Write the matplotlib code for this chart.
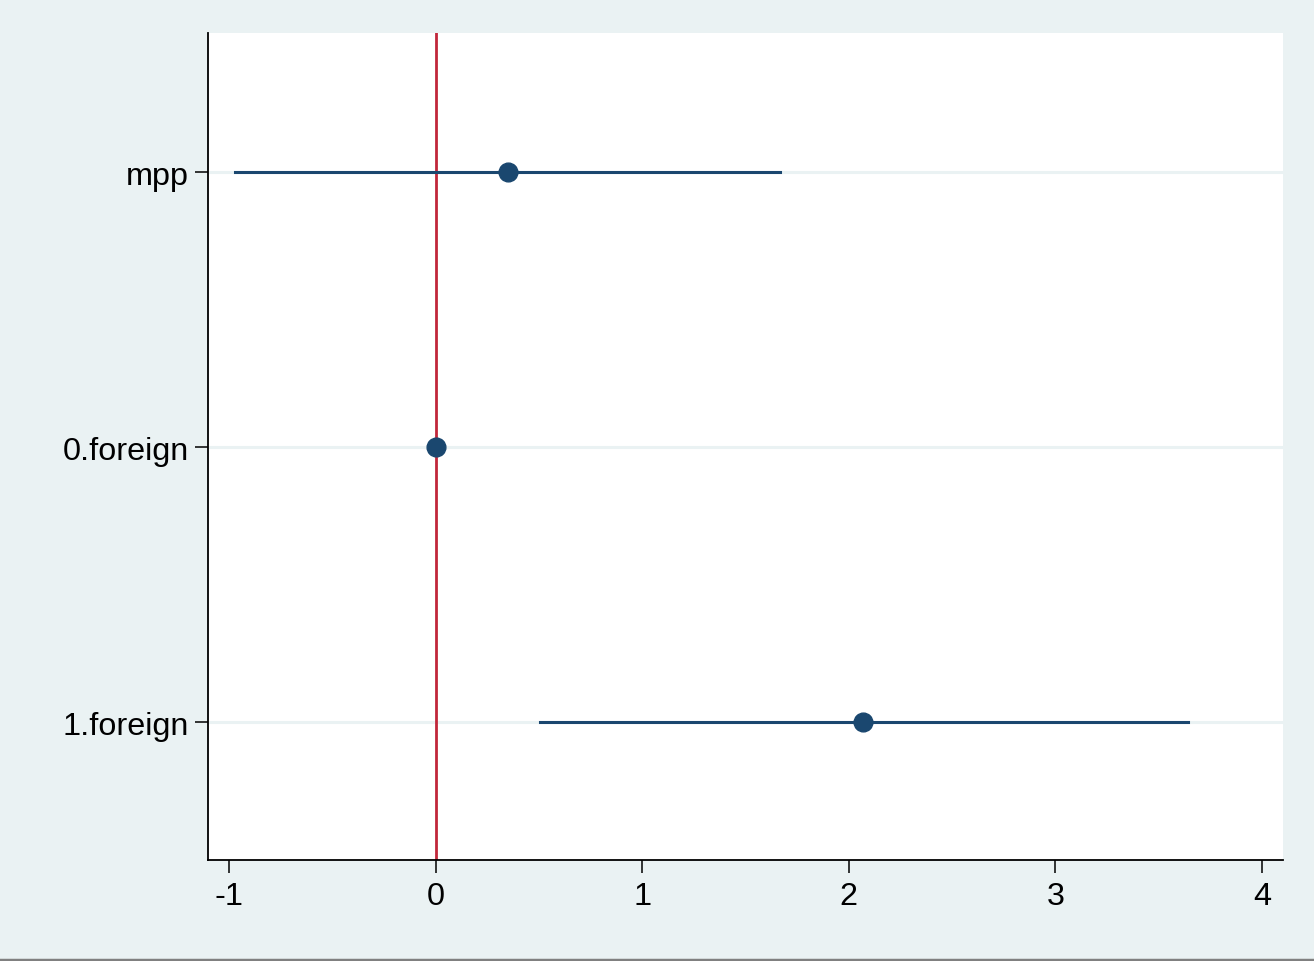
import matplotlib.pyplot as plt
from matplotlib.lines import Line2D

# coefficient estimates and 95% CIs
labels = ["mpp", "0.foreign", "1.foreign"]
coef = [0.35, 0.0, 2.07]
ci_low = [-0.97, 0.0, 0.505]
ci_high = [1.665, 0.0, 3.64]
xticks = [-1, 0, 1, 2, 3, 4]

navy = "#1a476f"
red = "#c1273a"
bg = "#eaf2f3"

plt.rcParams["font.family"] = ["Liberation Sans", "DejaVu Sans"]

fig = plt.figure(figsize=(13.14, 9.62), dpi=100, facecolor=bg)
ax = fig.add_axes([0.1583, 0.105, 0.8181, 0.8592])
ax.set_facecolor("white")

ypos = list(range(1, len(labels) + 1))

# grid lines at each coefficient
for y in ypos:
    ax.axhline(y, color=bg, linewidth=2.2, zorder=0)

ax.axvline(0, color=red, linewidth=2, zorder=1)

for y, c, lo, hi in zip(ypos, coef, ci_low, ci_high):
    if hi > lo:
        ax.plot([lo, hi], [y, y], color=navy, linewidth=2.2, zorder=2)
    ax.plot(c, y, "o", color=navy, markersize=13.5, zorder=3)

ax.set_xlim(-1.102, 4.102)
ax.set_ylim(3.5, 0.495)
ax.set_xticks(xticks)
ax.set_xticklabels([str(t) for t in xticks])
ax.set_yticks(ypos)
ax.set_yticklabels(labels)

for side in ["top", "right"]:
    ax.spines[side].set_visible(False)
for side in ["left", "bottom"]:
    ax.spines[side].set_linewidth(1.3)
    ax.spines[side].set_color("black")

ax.tick_params(axis="both", length=9.5, width=1.1, labelsize=23.3)
ax.tick_params(axis="x", pad=5.5)
ax.tick_params(axis="y", pad=4)

# thin gray border line at bottom of the window
fig.add_artist(Line2D([0, 1], [0.0015, 0.0015], color="#808080", linewidth=2.5,
                      transform=fig.transFigure))

fig.savefig("out.png", dpi=100, facecolor=bg)
